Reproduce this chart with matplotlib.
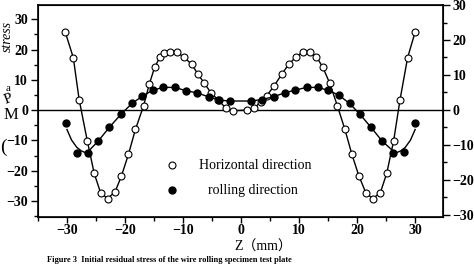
import numpy as np
import matplotlib
matplotlib.use('Agg')
import matplotlib.pyplot as plt
from matplotlib.ticker import MultipleLocator

# Horizontal direction (open circles)
horiz_z = [-30.3, -28.9, -27.9, -26.5, -25.3, -24.2, -23.0, -21.7, -20.6, -19.4,
           -18.2, -16.8, -15.8, -14.9, -14.0, -13.3, -12.2, -11.1, -9.9, -8.5,
           -7.4, -6.3, -5.1, -3.9, -2.6, -1.4, 1.1, 2.3, 3.4, 4.4, 5.7, 7.0, 8.2,
           9.5, 10.6, 11.8, 13.0, 14.1, 15.3, 16.6, 17.9, 19.1, 20.3, 21.5, 22.7,
           24.0, 25.1, 26.3, 27.4, 28.7, 30.0]
horiz_v = [25.8, 17.3, 3.5, -10.1, -20.9, -27.3, -29.2, -27.0, -21.7, -14.6,
           -6.4, 1.4, 8.6, 14.1, 17.4, 18.9, 19.3, 19.1, 17.6, 15.1,
           11.8, 8.8, 5.5, 3.3, 0.6, -0.2, 0.0, 0.6, 2.8, 4.7, 8.0, 11.8, 15.1,
           17.6, 19.1, 19.1, 17.6, 14.1, 8.8, 1.4, -6.4, -14.6, -21.7, -27.3, -29.2,
           -27.3, -20.9, -10.1, 3.5, 17.3, 25.8]

# Rolling direction (filled circles)
roll_z = [-30.2, -28.3, -26.4, -24.6, -22.7, -20.7, -18.8, -17.0, -15.2, -13.4,
          -11.4, -9.5, -7.6, -5.6, -3.8, -1.9, 1.8, 3.6, 5.6, 7.5, 9.3, 11.3,
          13.2, 14.9, 16.8, 18.7, 20.5, 22.4, 24.3, 26.1, 28.0, 30.0]
roll_v = [-4.4, -14.0, -14.0, -10.2, -5.7, -1.4, 2.2, 4.6, 6.6, 7.5,
          7.5, 6.4, 5.7, 4.4, 3.3, 3.0, 3.0, 3.5, 4.4, 5.7, 6.6, 7.5,
          7.5, 6.6, 5.0, 2.2, -1.4, -5.7, -10.2, -14.0, -13.8, -4.4]

# fitted curve for rolling direction
roll_fit_z = [-30.0, -29.2, -28.3, -27.5, -26.6, -24.6, -22.7, -20.7, -18.8, -17.0,
              -15.2, -13.4, -11.4, -9.5, -7.6, -5.6, -3.8, -1.9, 1.8, 3.6, 5.6,
              7.5, 9.3, 11.3, 13.2, 14.9, 16.8, 18.7, 20.5, 22.4, 24.3, 26.6,
              27.5, 28.3, 29.2, 30.0]
roll_fit_v = [-6.4, -9.9, -12.3, -13.5, -14.2, -10.2, -5.7, -1.4, 2.2, 4.6,
              6.6, 7.5, 7.5, 6.4, 5.7, 4.4, 3.3, 3.0, 3.0, 3.5, 4.4,
              5.7, 6.6, 7.5, 7.5, 6.6, 5.0, 2.2, -1.4, -5.7, -10.2, -14.2,
              -13.5, -12.3, -9.9, -6.4]

x_ticks = [-30, -20, -10, 0, 10, 20, 30]
y_ticks = [-30, -20, -10, 0, 10, 20, 30]

serif = ['Liberation Serif', 'DejaVu Serif']

fig = plt.figure(figsize=(4.74, 2.64), dpi=100)
ax = fig.add_axes([0.080, 0.178, 0.8546, 0.803])

ax.axhline(0, color='black', lw=1.0)
ax.plot(horiz_z, horiz_v, '-', color='black', lw=1.0)
ax.plot(horiz_z, horiz_v, 'o', mfc='white', mec='black', mew=0.8, ms=5, ls='none')
ax.plot(roll_fit_z, roll_fit_v, '-', color='black', lw=1.0)
ax.plot(roll_z, roll_v, 'o', mfc='black', mec='black', ms=5, ls='none')

ax.set_xlim(-35, 34.8)
ax.set_ylim(-35.3, 34.7)
ax.set_xticks(x_ticks)
ax.set_yticks(y_ticks)
ax.xaxis.set_minor_locator(MultipleLocator(5))
ax.yaxis.set_minor_locator(MultipleLocator(5))
ax.tick_params(which='major', direction='out', length=5, width=1, pad=2)
ax.tick_params(axis='x', which='major', length=4, pad=1)
ax.tick_params(which='minor', direction='out', length=3, width=1)
for sp in ax.spines.values():
    sp.set_linewidth(1.2)

ax2 = ax.twinx()
ax2.set_ylim(-30.6, 30.0)
ax2.set_yticks(y_ticks)
ax2.yaxis.set_minor_locator(MultipleLocator(5))
ax2.tick_params(which='major', direction='out', length=5, width=1, pad=2)
ax2.tick_params(which='minor', direction='out', length=3, width=1)

for a in (ax, ax2):
    for lab in a.get_xticklabels() + a.get_yticklabels():
        lab.set_fontfamily(serif)
        lab.set_fontweight('bold')
        lab.set_fontsize(10)

# legend drawn by hand, centred text
ax.plot([0.33], [0.245], 'o', transform=ax.transAxes, mfc='white', mec='black',
        mew=0.8, ms=5, clip_on=False)
ax.plot([0.33], [0.127], 'o', transform=ax.transAxes, mfc='black', mec='black',
        ms=5, clip_on=False)
ax.text(0.536, 0.245, 'Horizontal direction', transform=ax.transAxes, ha='center',
        va='center', fontsize=10, family=serif)
ax.text(0.531, 0.127, 'rolling direction', transform=ax.transAxes, ha='center',
        va='center', fontsize=10, family=serif)

# axis label texts
fig.text(0.555, 0.066, 'Z（mm）', ha='center', va='center', fontsize=10,
         family=['Liberation Serif', 'Noto Sans CJK SC'])
fig.text(0.016, 0.86, 'stress', rotation=90, ha='center', va='center',
         fontsize=10, family=serif, style='italic')
fig.text(0.016, 0.665, 'a', ha='center', va='center', fontsize=8, family=serif)
fig.text(0.018, 0.625, 'P', rotation=20, ha='center', va='center', fontsize=11, family=serif)
fig.text(0.022, 0.565, 'M', ha='center', va='center', fontsize=12, family=serif)
fig.text(0.008, 0.44, '(', ha='center', va='center', fontsize=14, family=serif)

# caption at the bottom edge
fig.text(0.10, 0.0, 'Figure 3  Initial residual stress of the wire rolling specimen test plate',
         ha='left', va='bottom', fontsize=6, fontweight='bold', family=serif)

fig.savefig('out.png', dpi=100)
